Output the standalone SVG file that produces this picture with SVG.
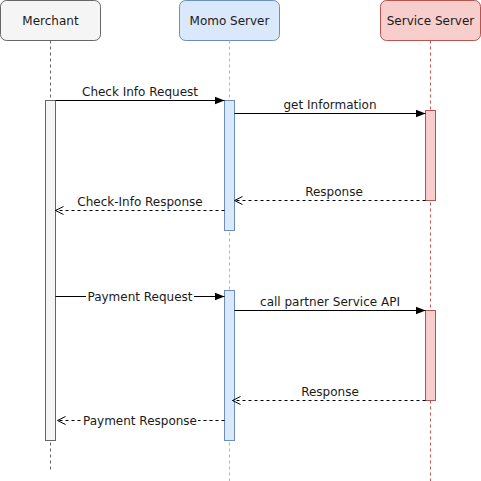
<svg xmlns="http://www.w3.org/2000/svg" width="481" height="481" viewBox="0 0 481 481">
<defs>
<marker id="block" viewBox="0 0 10 10" refX="10" refY="5" markerWidth="10" markerHeight="10" markerUnits="userSpaceOnUse" orient="auto"><path d="M0,1 L10,5 L0,9 Z" fill="#000"/></marker>
<marker id="open" viewBox="0 0 10 10" refX="9" refY="5" markerWidth="10" markerHeight="10" markerUnits="userSpaceOnUse" orient="auto"><path d="M1,1 L9,5 L1,9" fill="none" stroke="#000" stroke-width="1"/></marker>
</defs>
<style>
text{font-family:"DejaVu Sans","Liberation Sans",sans-serif;font-size:12px;fill:#1a1a1a;text-anchor:middle}
.h{font-size:12px}
.life{fill:none;stroke-dasharray:3 3}
.req{stroke:#000;fill:none;marker-end:url(#block)}
.resp{stroke:#000;fill:none;stroke-dasharray:3 3;marker-end:url(#open)}
.lbl{fill:#fff}
</style>
<rect width="481" height="481" fill="#fff"/>
<g id="merchant">
<rect x="0.5" y="0.5" width="100" height="40" rx="6" fill="#f5f5f5" stroke="#666"/>
<text class="h" x="50.5" y="24.5">Merchant</text>
<line class="life" x1="50.5" y1="40.5" x2="50.5" y2="470" stroke="#666"/>
<rect x="45.5" y="100.5" width="10" height="340" fill="#f5f5f5" stroke="#666"/>
</g>
<g id="momo">
<rect x="179.5" y="0.5" width="100" height="40" rx="6" fill="#dae8fc" stroke="#6c8ebf"/>
<text class="h" x="229.5" y="24.5">Momo Server</text>
<line class="life" x1="229.5" y1="40.5" x2="229.5" y2="481" stroke="#9db9e3"/>
<rect x="224.5" y="100.5" width="10" height="130" fill="#dae8fc" stroke="#6c8ebf"/>
<rect x="224.5" y="290.5" width="10" height="150" fill="#dae8fc" stroke="#6c8ebf"/>
</g>
<g id="service">
<rect x="380.5" y="0.5" width="100" height="40" rx="6" fill="#f8cecc" stroke="#b85450"/>
<text class="h" x="430.5" y="24.5">Service Server</text>
<line class="life" x1="430.5" y1="40.5" x2="430.5" y2="481" stroke="#b85450"/>
<rect x="425.5" y="110.5" width="10" height="90" fill="#f8cecc" stroke="#b85450"/>
<rect x="425.5" y="310.5" width="10" height="90" fill="#f8cecc" stroke="#b85450"/>
</g>
<g id="connectors">
<line class="req" x1="55.5" y1="100.5" x2="224.5" y2="100.5"/>
<text x="140" y="96">Check Info Request</text>
<line class="req" x1="234.5" y1="113.5" x2="425.5" y2="113.5"/>
<text x="330" y="109">get Information</text>
<line class="resp" x1="425.5" y1="200.5" x2="234.5" y2="200.5"/>
<text x="334" y="196">Response</text>
<line class="resp" x1="224.5" y1="210.5" x2="55.5" y2="210.5"/>
<text x="140" y="206">Check-Info Response</text>
<line class="req" x1="55.5" y1="296.5" x2="224.5" y2="296.5" stroke="#555"/>
<rect class="lbl" x="86" y="289" width="108" height="15"/>
<text x="140" y="301">Payment Request</text>
<line class="req" x1="234.5" y1="310.5" x2="425.5" y2="310.5"/>
<text x="330" y="306">call partner Service API</text>
<line class="resp" x1="425.5" y1="400.5" x2="232.5" y2="400.5"/>
<text x="330" y="396">Response</text>
<line class="resp" x1="224.5" y1="420.5" x2="57.5" y2="420.5"/>
<rect class="lbl" x="82" y="413" width="116" height="15"/>
<text x="140" y="425">Payment Response</text>
</g>
</svg>
